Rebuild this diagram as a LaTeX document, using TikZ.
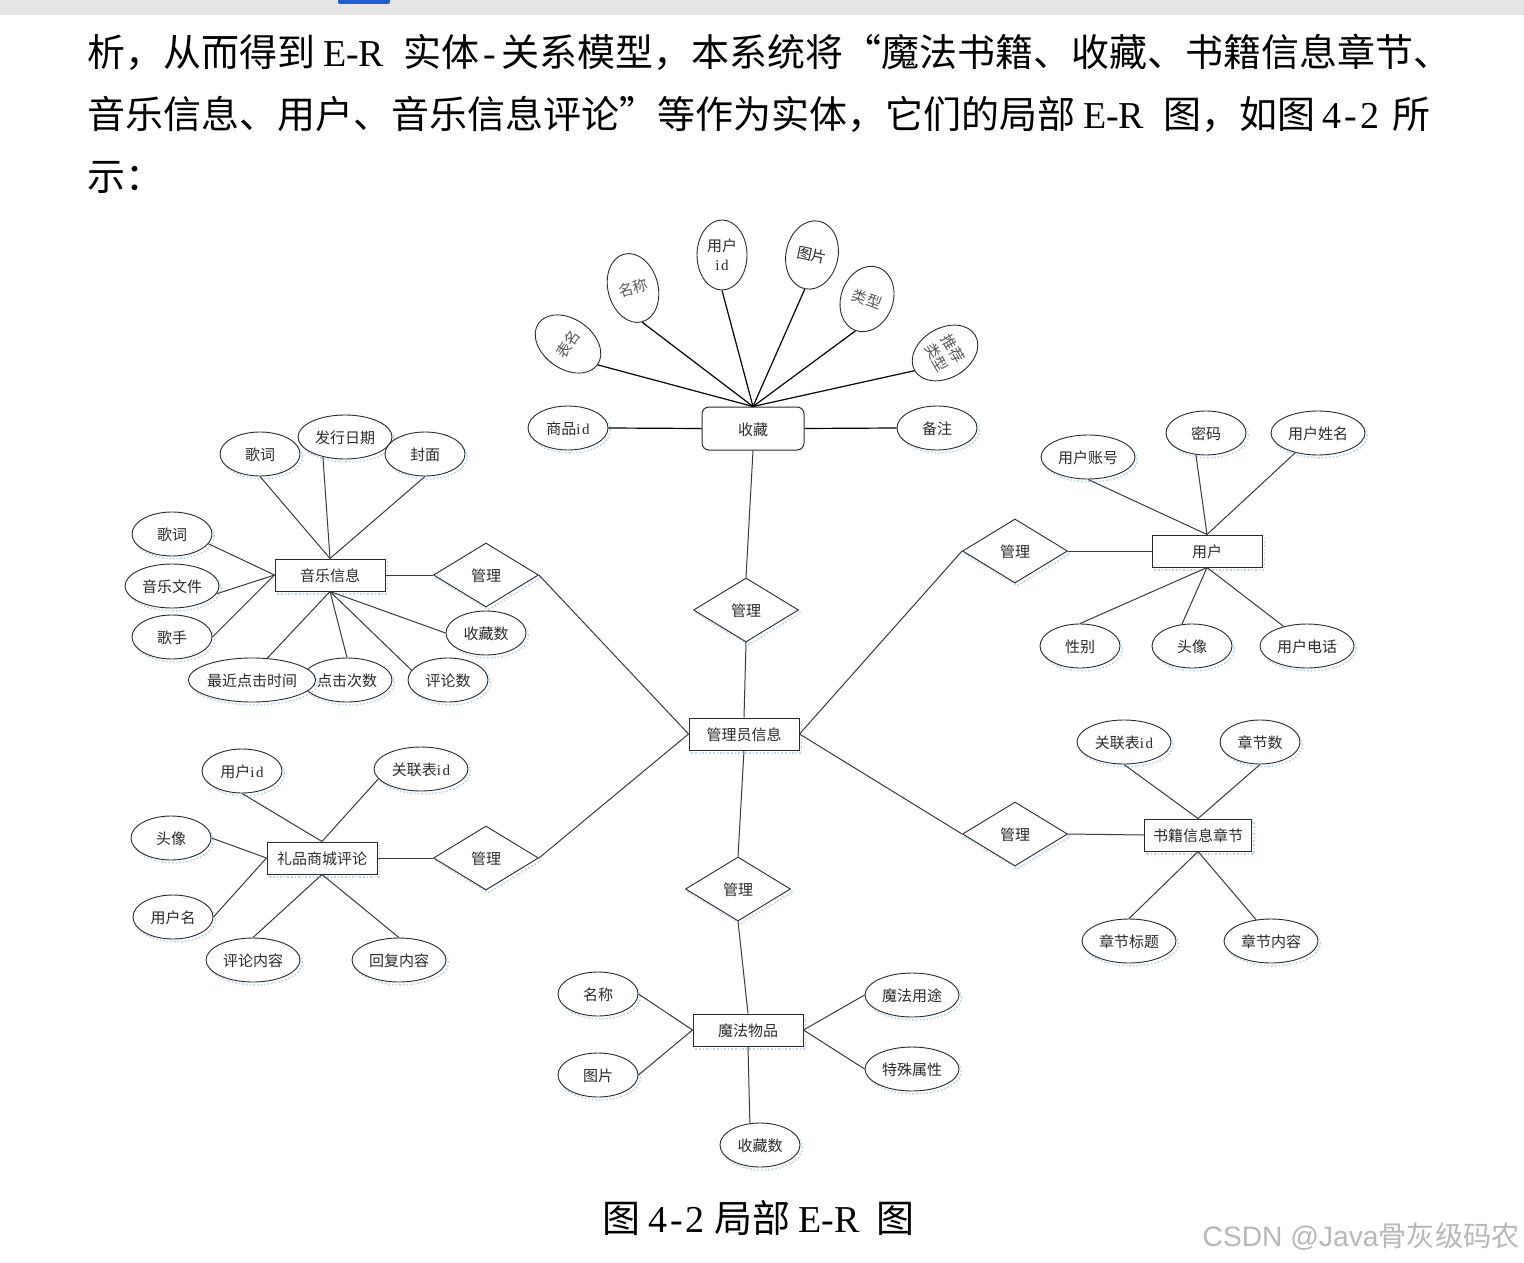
\documentclass[tikz,border=0pt]{standalone}
\usepackage{fontspec}
\usetikzlibrary{shapes.geometric}
\setmainfont{Noto Sans CJK SC}
\newfontfamily\lat{Liberation Serif}
\newfontfamily\latd[LetterSpace=8]{Liberation Serif}
\newfontfamily\wm{Liberation Sans}
\newcommand{\body}{\fontsize{19}{19}\selectfont}
\newcommand{\lab}{\fontsize{7.5}{9.5}\selectfont}
\newcommand{\idt}{{\lat i\kern.9pt d}}
\newcommand{\latin}[3]{\kern#1em{\lat #3}\kern#2em}
\newcommand{\latn}[3]{\kern#1em{\latd #3}\kern#2em}
\definecolor{ink}{HTML}{2A2A2A}
\definecolor{halo}{HTML}{BBD3F0}
\definecolor{tab}{HTML}{1F5FCC}
\definecolor{wire}{HTML}{3A3A3A}
\tikzset{
  halo/.style={preaction={draw=halo,densely dotted,line width=.8pt,transform canvas={shift={(1.2pt,-1.4pt)}}}},
  attr/.style={ellipse,draw=ink,line width=.45pt,fill=white,halo,minimum width=#1*.5pt,minimum height=22pt,inner sep=0pt,text=ink,font=\lab,align=center,text height=7.2pt},
  fan/.style n args={4}{ellipse,draw=ink,line width=.45pt,fill=white,minimum width=#1*.5pt,minimum height=#2*.5pt,inner sep=0pt,rotate=#3,font=\lab,text=#4,align=center},
  ent/.style={rectangle,draw=ink,line width=.5pt,fill=white,halo,minimum height=16pt,inner sep=0pt,text=ink,font=\lab,text height=7.2pt},
  rel/.style={diamond,draw=ink,line width=.45pt,fill=white,halo,minimum width=52.5pt,minimum height=32pt,inner sep=0pt,text=ink,font=\lab,text height=7.2pt},
  lnk/.style={draw=wire,line width=.5pt},
  fanlnk/.style={draw=black,line width=.6pt},
  para/.style={anchor=base west,inner sep=0pt,text=black,font=\body},
}
\begin{document}
\begin{tikzpicture}[x=.5pt,y=-.5pt]
\useasboundingbox (0,0) rectangle (1524,1262);
\fill[white] (0,0) rectangle (1524,1262);
\fill[black!10] (0,0) rectangle (1524,15);
\fill[rounded corners=1pt,tab] (338,-4) rectangle (390,4);

\node[para] (p1) at (87,66.5) {析，从而得到\latin{.2}{.5}{E-R}实体\latin{.12}{.13}{-}关系模型，本系统将“魔法书籍、收藏、书籍信息章节、};
\node[para] (p2) at (87,128.5) {音乐信息、用户、音乐信息评论”等作为实体，它们的局部\latin{.2}{.5}{E-R}图，如图\latn{.2}{.33}{4-2}所};
\node[para] (p3) at (87,190.5) {示：};

% collection fan
\node[fan={50}{72}{55}{black!65}] (c1) at (568,344) {表名};
\node[fan={50}{70}{15}{black!65}] (c2) at (633,288) {名称};
\node[fan={50}{70}{0}{ink}] (c3) at (722,255) {用户\\\idt};
\node[fan={52}{69}{-12}{ink}] (c4) at (812,255) {图片};
\node[fan={52}{67}{-20}{black!65}] (c5) at (867,299) {类型};
\node[fan={50}{70}{-60}{black!65}] (c6) at (945,353) {推荐\\类型};
\node[attr=80] (c7) at (568,428) {商品\idt};
\node[attr=80] (c8) at (937,428) {备注};
\node[rectangle,rounded corners=3.5pt,draw=ink,line width=.5pt,minimum width=51pt,minimum height=21.5pt,inner sep=0pt,font=\lab,text=ink,text height=7.2pt] (fav) at (753,428.5) {收藏};

% centre
\node[ent,minimum width=55pt] (adm) at (744,734) {管理员信息};
\node[rel] (r1) at (746,610) {管理};
\node[rel] (r2) at (486,575) {管理};
\node[rel] (r3) at (1015,551) {管理};
\node[rel] (r4) at (486,858) {管理};
\node[rel] (r5) at (1015,834) {管理};
\node[rel] (r6) at (738,889) {管理};

% music
\node[ent,minimum width=55pt] (mus) at (330,575) {音乐信息};
\node[attr=80] (m1) at (260,454) {歌词};
\node[attr=94] (m2) at (345,437) {发行日期};
\node[attr=80] (m3) at (425,454) {封面};
\node[attr=80] (m4) at (172,534) {歌词};
\node[attr=94] (m5) at (172,586) {音乐文件};
\node[attr=80] (m6) at (172,637) {歌手};
\node[attr=90] (m8) at (347,680) {点击次数};
\node[attr=124] (m7) at (252,680) {最近点击时间};
\node[attr=80] (m9) at (448,680) {评论数};
\node[attr=80] (m10) at (486,633) {收藏数};

% user
\node[ent,minimum width=55pt] (usr) at (1207,551) {用户};
\node[attr=94] (u1) at (1088,457) {用户账号};
\node[attr=80] (u2) at (1206,433) {密码};
\node[attr=94] (u3) at (1318,433) {用户姓名};
\node[attr=80] (u4) at (1080,646) {性别};
\node[attr=80] (u5) at (1192,646) {头像};
\node[attr=94] (u6) at (1307,646) {用户电话};

% chapters
\node[ent,minimum width=53.5pt] (chp) at (1198,835) {书籍信息章节};
\node[attr=94] (h1) at (1124,742) {关联表\idt};
\node[attr=80] (h2) at (1260,742) {章节数};
\node[attr=94] (h3) at (1129,941) {章节标题};
\node[attr=94] (h4) at (1271,941) {章节内容};

% gift comments
\node[ent,minimum width=55pt] (gft) at (322,858) {礼品商城评论};
\node[attr=80] (g1) at (242,771) {用户\idt};
\node[attr=94] (g2) at (421,769) {关联表\idt};
\node[attr=80] (g3) at (171,838) {头像};
\node[attr=80] (g4) at (173,917) {用户名};
\node[attr=94] (g5) at (253,960) {评论内容};
\node[attr=94] (g6) at (399,960) {回复内容};

% magic items
\node[ent,minimum width=55pt] (mag) at (748,1030) {魔法物品};
\node[attr=80] (a1) at (598,994) {名称};
\node[attr=80] (a2) at (598,1075) {图片};
\node[attr=94] (a3) at (912,995) {魔法用途};
\node[attr=94] (a4) at (912,1069) {特殊属性};
\node[attr=80] (a5) at (760,1145) {收藏数};

\node[para] (cap) at (602,1232) {图\latn{.2}{.26}{4-2}局部\latin{.2}{.45}{E-R}图};
\node[anchor=base east,inner sep=0pt,text=black!28,font=\fontsize{14.1}{14.1}\selectfont] (wmk) at (1520,1246) {{\wm CSDN @Java}骨灰级码农};

% connectors
\foreach \k in {c1,c2,c3,c4,c5,c6} \draw[fanlnk] (\k.south) -- (fav.north);
\draw[fanlnk] (c7.east) -- (fav.west);
\draw[fanlnk] (c8.west) -- (fav.east);
\draw[lnk] (fav.south) -- (r1.north);
\draw[lnk] (r1.south) -- (adm.north);
\draw[lnk] (m1.south) -- (mus.north);
\draw[lnk] (m2.222) -- (mus.north);
\draw[lnk] (m3.south) -- (mus.north);
\draw[lnk] (m4.-15) -- (mus.west);
\draw[lnk] (m5.-10) -- (mus.west);
\draw[lnk] (m6.east) -- (mus.west);
\draw[lnk] (m7.55) -- (mus.south);
\draw[lnk] (m8.north) -- (mus.south);
\draw[lnk] (m9.165) -- (mus.south);
\draw[lnk] (m10.west) -- (mus.south);
\draw[lnk] (mus.east) -- (r2.west);
\draw[lnk] (r2.east) -- (adm.west);
\draw[lnk] (gft.east) -- (r4.west);
\draw[lnk] (r4.east) -- (adm.west);
\draw[lnk] (g1.south) -- (gft.north);
\draw[lnk] (g2.193) -- (gft.north);
\draw[lnk] (g3.east) -- (gft.west);
\draw[lnk] (g4.east) -- (gft.west);
\draw[lnk] (g5.north) -- (gft.south);
\draw[lnk] (g6.north) -- (gft.south);
\draw[lnk] (adm.east) -- (r3.west);
\draw[lnk] (adm.east) -- (r5.west);
\draw[lnk] (r3.east) -- (usr.west);
\draw[lnk] (r5.east) -- (chp.west);
\draw[lnk] (u1.south) -- (usr.north);
\draw[lnk] (u2.245) -- (usr.north);
\draw[lnk] (u3.221) -- (usr.north);
\draw[lnk] (u4.north) -- (usr.south);
\draw[lnk] (u5.115) -- (usr.south);
\draw[lnk] (u6.140) -- (usr.south);
\draw[lnk] (h1.south) -- (chp.north);
\draw[lnk] (h2.south) -- (chp.north);
\draw[lnk] (h3.north) -- (chp.south);
\draw[lnk] (h4.125) -- (chp.south);
\draw[lnk] (adm.south) -- (r6.north);
\draw[lnk] (r6.south) -- (mag.north);
\draw[lnk] (a1.east) -- (mag.west);
\draw[lnk] (a2.east) -- (mag.west);
\draw[lnk] (a3.west) -- (mag.east);
\draw[lnk] (a4.west) -- (mag.east);
\draw[lnk] (a5.115) -- (mag.south);
\end{tikzpicture}
\end{document}
